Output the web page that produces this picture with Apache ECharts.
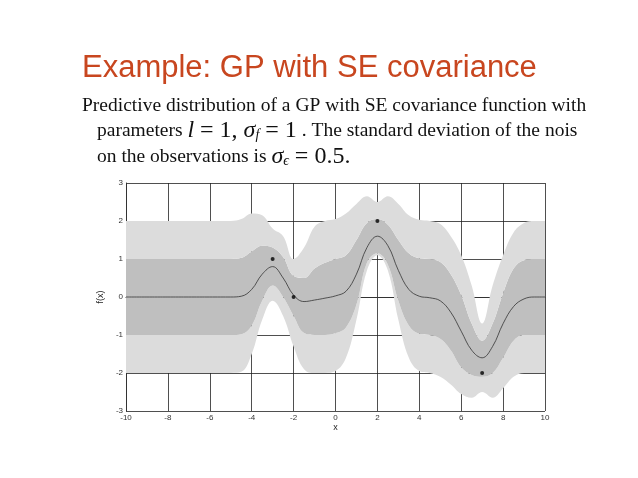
<!DOCTYPE html>
<html>
<head>
<meta charset="utf-8">
<script src="https://cdn.jsdelivr.net/npm/echarts@6/dist/echarts.min.js"></script>
<style>html,body{margin:0;padding:0;background:#fff}#chart{width:638px;height:478px}</style>
</head>
<body>
<div id="chart"></div>
<script>
// values, x step 0.5
const xs = [];
for (let i = 0; i <= 40; i++) xs.push(String(-10 + i * 0.5));
const head = (v, n) => Array(n).fill(v);
const meanVals = head(0, 11).concat([0.02, 0.2, 0.6, 0.8, 0.5, 0.05, -0.12, -0.08, -0.03, 0.03, 0.15, 0.6, 1.3, 1.6, 1.35, 0.7, 0.2, 0.02, -0.02, -0.1, -0.4, -0.9, -1.4, -1.6, -1.3, -0.7, -0.25, -0.05, 0, 0]);
const innerUpper = head(1, 11).concat([1.03, 1.2, 1.35, 1.3, 1.05, 0.55, 0.5, 0.75, 0.9, 1.0, 1.1, 1.5, 1.95, 2.05, 1.9, 1.5, 1.15, 1.02, 1.0, 0.92, 0.6, 0.05, -0.7, -1.15, -0.7, 0.1, 0.75, 0.97, 1, 1]);
const innerLower = head(-1, 11).concat([-0.98, -0.75, -0.1, 0.3, 0.0, -0.5, -0.95, -1.0, -1.0, -0.95, -0.8, -0.2, 0.9, 1.15, 0.85, -0.1, -0.75, -0.97, -1.0, -1.1, -1.4, -1.85, -2.05, -2.1, -2.0, -1.6, -1.15, -1.0, -1, -1]);
const outerUpper = head(2, 11).concat([2.05, 2.2, 2.15, 1.8, 1.6, 1.0, 1.3, 1.85, 2.0, 2.05, 2.2, 2.45, 2.65, 2.5, 2.65, 2.45, 2.15, 2.03, 2.0, 1.92, 1.6, 1.1, 0.3, -0.7, 0.3, 1.1, 1.7, 1.95, 2, 2]);
const outerLower = head(-2, 11).concat([-1.97, -1.5, -0.6, -0.1, -0.5, -1.3, -1.9, -2.0, -2.0, -1.95, -1.6, -0.6, 0.7, 1.1, 0.7, -0.6, -1.6, -1.95, -2.0, -2.1, -2.3, -2.55, -2.65, -2.5, -2.65, -2.4, -2.1, -2.0, -2, -2]);
const obsX = ['-3', '-2', '2', '7'];
const obsY = [1, 0, 2, -2];

const diff = (a, b) => a.map((v, i) => v - b[i]);

const band = (name, data, color) => ({
  name, type: 'line', stack: 'band', stackStrategy: 'all', data, symbol: 'none', smooth: 0.4,
  lineStyle: {width: 0}, areaStyle: color ? {color, opacity: 1} : undefined,
  silent: true, z: 1
});

const serif = '"Liberation Serif", serif';
const rich = {
  a: {font: '19.5px ' + serif, fill: '#111'},
  m: {font: 'italic 24px ' + serif, fill: '#111'},
  b: {font: '24px ' + serif, fill: '#111'},
  s: {font: 'italic 14px ' + serif, fill: '#111', padding: [9, 0, 0, 0]}
};
const chart = echarts.init(document.getElementById('chart'));
chart.setOption({
  animation: false,
  grid: {left: 126, right: 93, top: 183, bottom: 67},
  graphic: [
    {type: 'text', left: 82, top: 53, style: {text: 'Example: GP with SE covariance', font: '31px "Liberation Sans", Arial', fill: '#c8461f'}},
    {type: 'text', left: 82, top: 96, style: {text: 'Predictive distribution of a GP with SE covariance function with', font: '19.5px ' + serif, fill: '#111'}},
    {type: 'text', left: 97, top: 119, style: {
      text: '{a|parameters }{m|l}{b| = 1, }{m|σ}{s|f}{b| = 1}{a| . The standard deviation of the nois}', rich}},
    {type: 'text', left: 97, top: 145, style: {
      text: '{a|on the observations is }{m|σ}{s|ϵ}{b| = 0.5.}', rich}}
  ],
  xAxis: {
    type: 'category', data: xs, boundaryGap: false,
    name: 'x', nameLocation: 'middle', nameGap: 12, nameTextStyle: {fontSize: 9, color: '#222'},
    axisLine: {lineStyle: {color: '#333'}}, axisTick: {show: false},
    axisLabel: {fontSize: 8, color: '#333', margin: 3, interval: 3},
    splitLine: {show: true, interval: 3, lineStyle: {color: '#222', width: 0.8}}
  },
  yAxis: {
    type: 'value', min: -3, max: 3, interval: 1,
    name: 'f(x)', nameLocation: 'middle', nameGap: 16, nameTextStyle: {fontSize: 9, color: '#222'},
    axisLine: {show: true, lineStyle: {color: '#333'}}, axisTick: {show: false},
    axisLabel: {fontSize: 8, color: '#333', margin: 3},
    splitLine: {lineStyle: {color: '#222', width: 0.8}}
  },
  series: [
    band('base', outerLower, null),
    band('lowLight', diff(innerLower, outerLower), '#dcdcdc'),
    band('dark', diff(innerUpper, innerLower), '#bfbfbf'),
    band('highLight', diff(outerUpper, innerUpper), '#dcdcdc'),
    {name: 'mean', type: 'line', data: meanVals, symbol: 'none', smooth: 0.4,
      lineStyle: {color: '#333', width: 0.8}, z: 3},
    {name: 'obs', type: 'scatter', data: obsX.map((x, i) => [x, obsY[i]]),
      symbolSize: 4, itemStyle: {color: '#000'}, z: 4}
  ]
});
</script>
</body>
</html>
